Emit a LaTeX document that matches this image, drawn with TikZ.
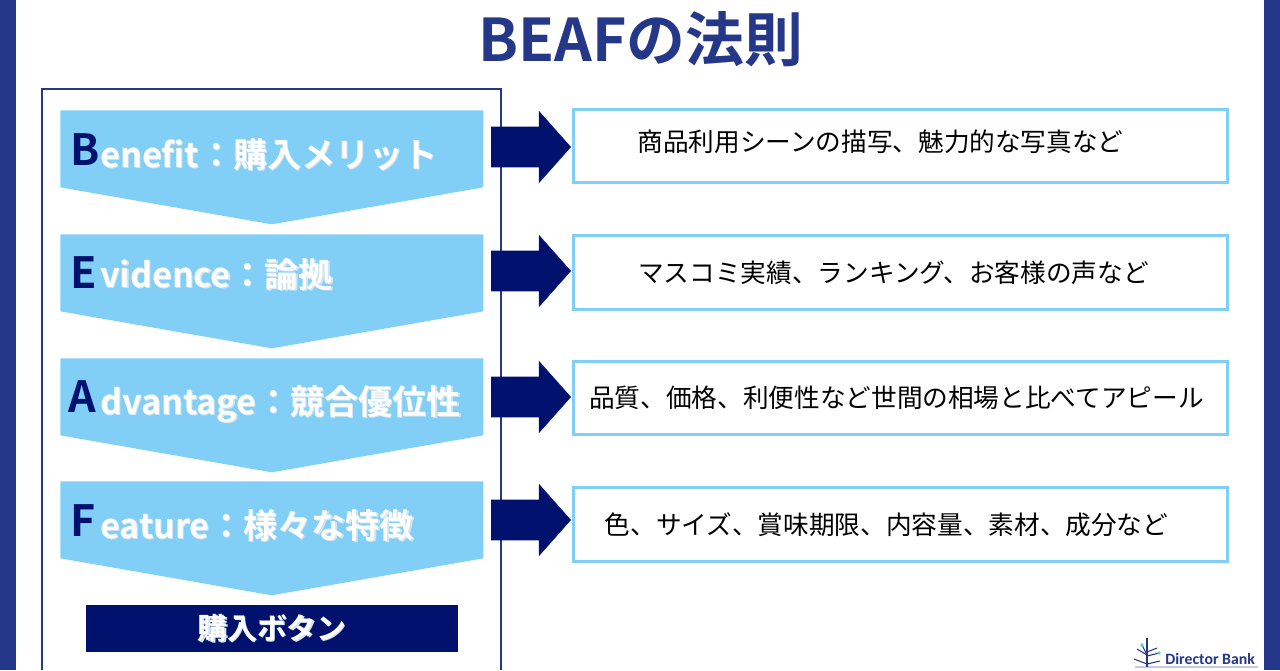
\documentclass[tikz,border=0pt]{standalone}
\usepackage{fontspec}
\setmainfont{Noto Sans CJK JP}[BoldFont={Noto Sans CJK JP Bold}]
\newfontfamily\logofont{Carlito}
\usetikzlibrary{positioning, calc, shapes.arrows, shapes.symbols}

\definecolor{barblue}{HTML}{253788}
\definecolor{navy}{HTML}{00126E}
\definecolor{skyblue}{HTML}{81CFF6}
\definecolor{softgrey}{HTML}{D3E4EF}
\definecolor{teal}{HTML}{4FD6C8}
\definecolor{greyline}{HTML}{C3CBE2}

\newcommand{\softtext}[1]{\makebox[0pt][l]{\hspace{0.7pt}\raisebox{-0.7pt}{\textcolor{softgrey}{#1}}}\textcolor{white}{#1}}

\tikzset{
	stepchevron/.style={signal, signal to=south, signal from=nowhere, signal pointer angle=160.15, fill=skyblue, minimum width=8.46cm, minimum height=1.54cm, inner sep=0pt, anchor=north west},
	bigletter/.style={font=\bfseries\fontsize{24.5}{24.5}\selectfont, text=navy, anchor=base west, inner sep=0pt},
	steptext/.style={font=\bfseries\fontsize{19.4}{19.4}\selectfont, anchor=base west, inner sep=0pt},
	blockarrow/.style={single arrow, fill=navy, text height=0.8cm, text width=0cm, minimum height=1.6cm, single arrow head extend=0.32cm, single arrow head indent=0cm, single arrow tip angle=96.8, inner sep=0pt},
	descbox/.style={draw=skyblue, line width=1.7pt, fill=white, minimum width=13.08cm, minimum height=1.47cm, inner sep=0pt},
	desctext/.style={font=\fontsize{14.6}{14.6}\selectfont, text=black, inner sep=0pt}
}

\begin{document}
\begin{tikzpicture}[x=0.02cm, y=-0.02cm]
\useasboundingbox (0,0) rectangle (1280,670);

% Seitenbalken
\fill[barblue] (0,0) rectangle (16,670);
\fill[barblue] (1264,0) rectangle (1280,670);

% Titel
\node[font=\bfseries\fontsize{33.5}{33.5}\selectfont, text=barblue, inner sep=0pt] (title) at (641,39) {BEAFの法則};

% Rahmen
\coordinate (FL) at (42,670);
\coordinate (FR) at (501,670);
\draw[barblue, line width=1.2pt] (FL) |- (FR |- 0,89) -- (FR);

% Schritte
\node[stepchevron] (chevB) at (60,110) {};
\node[stepchevron] (chevE) at (60,234) {};
\node[stepchevron] (chevA) at (60,358) {};
\node[stepchevron] (chevF) at (60,481) {};

\node[bigletter] (letB) at (70,165) {B};
\node[steptext] (txtB) at (100,167) {\softtext{enefit：購入メリット}};

\node[bigletter] (letE) at (70,288) {E};
\node[steptext] (txtE) at (100,287) {\softtext{vidence：論拠}};

\node[bigletter] (letA) at (68,412) {A};
\node[steptext] (txtA) at (100,414) {\softtext{dvantage：競合優位性}};

\node[bigletter] (letF) at (70,536) {F};
\node[steptext] (txtF) at (100,538) {\softtext{eature：様々な特徴}};

% Button
\node[fill=navy, minimum width=7.44cm, minimum height=0.94cm, inner sep=0pt] (buy) at (272,628.5) {};
\node[font=\bfseries\fontsize{16.9}{16.9}\selectfont, inner sep=0pt] (buytxt) at (buy) {\softtext{購入ボタン}};

% Pfeile
\node[blockarrow] (arr1) at (522,147) {};
\node[blockarrow] (arr2) at (522,271) {};
\node[blockarrow] (arr3) at (522,397) {};
\node[blockarrow] (arr4) at (522,520) {};

% Kaesten
\node[descbox] (box1) at (900.5,146) {};
\node[descbox] (box2) at (900.5,272.5) {};
\node[descbox] (box3) at (900.5,398) {};
\node[descbox] (box4) at (900.5,524.5) {};

\node[desctext] (desc1) at ($(box1)+(-20,-4)$) {商品利用シーンの描写、魅力的な写真など};
\node[desctext] (desc2) at ($(box2)+(-7,0)$) {マスコミ実績、ランキング、お客様の声など};
\node[desctext] (desc3) at ($(box3)+(-4,0)$) {品質、価格、利便性など世間の相場と比べてアピール};
\node[desctext] (desc4) at ($(box4)+(-14,0)$) {色、サイズ、賞味期限、内容量、素材、成分など};

% Logo
\coordinate (root) at (1147,667);
\coordinate (top) at (1147,638);
\draw[greyline, line width=0.6pt] (1135,667) -- (1258,667);
\draw[barblue, line width=1pt] (root) -- (top);
\draw[barblue, line width=0.6pt] (1147,655) -- (1142,645);
\draw[barblue, line width=0.6pt] (1147,656) -- (1159,653);
\draw[barblue, line width=0.6pt] (1147,652) -- (1157,648);
\draw[barblue, line width=0.6pt] (1147,655) -- (1137,649);
\draw[barblue, line width=0.6pt] (1147,664) -- (1134,659);
\draw[barblue, line width=0.6pt] (1147,664) -- (1160,661);
\fill[teal] (1142,645) circle (1.8);
\fill[teal] (1159,653) circle (1.8);
\node[font=\logofont\bfseries\fontsize{9}{9}\selectfont, text=barblue, anchor=base west, inner sep=0pt] (logo) at (1165,664) {Director Bank};

\end{tikzpicture}
\end{document}
